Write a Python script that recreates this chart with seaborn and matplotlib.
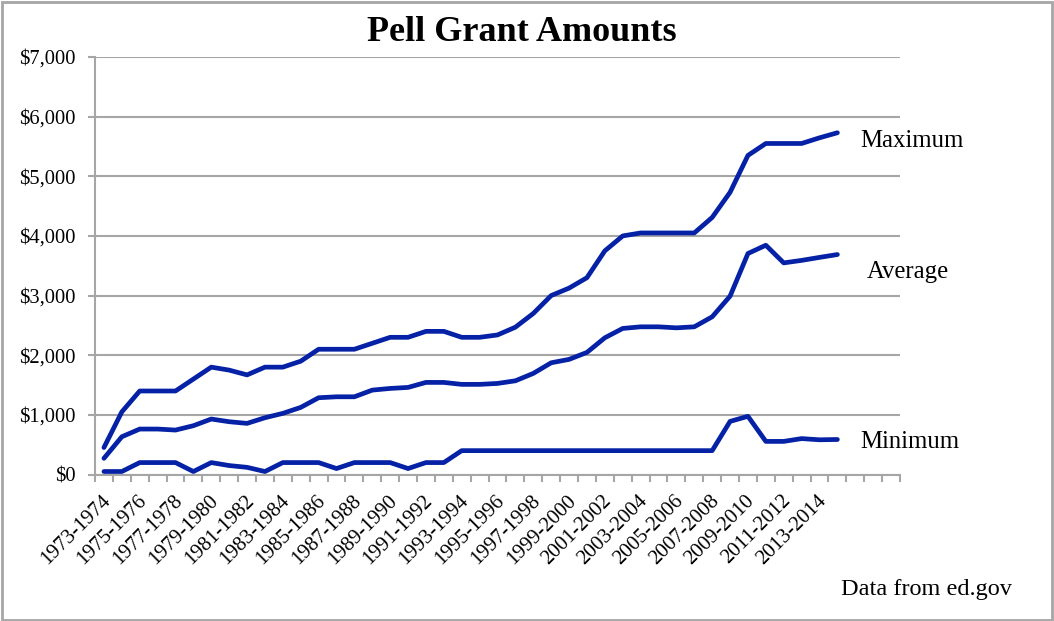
import numpy as np
import pandas as pd
import seaborn as sns
import matplotlib.pyplot as plt
from matplotlib.patches import Rectangle
from matplotlib.ticker import FuncFormatter, MultipleLocator
from matplotlib.transforms import ScaledTranslation

# datos (montos de la beca Pell por año academico)
years = ['1973-1974', '1974-1975', '1975-1976', '1976-1977', '1977-1978', '1978-1979',
         '1979-1980', '1980-1981', '1981-1982', '1982-1983', '1983-1984', '1984-1985',
         '1985-1986', '1986-1987', '1987-1988', '1988-1989', '1989-1990', '1990-1991',
         '1991-1992', '1992-1993', '1993-1994', '1994-1995', '1995-1996', '1996-1997',
         '1997-1998', '1998-1999', '1999-2000', '2000-2001', '2001-2002', '2002-2003',
         '2003-2004', '2004-2005', '2005-2006', '2006-2007', '2007-2008', '2008-2009',
         '2009-2010', '2010-2011', '2011-2012', '2012-2013', '2013-2014', '2014-2015']
maximum = [452, 1050, 1400, 1400, 1400, 1600, 1800, 1750, 1670, 1800, 1800, 1900,
           2100, 2100, 2100, 2200, 2300, 2300, 2400, 2400, 2300, 2300, 2340, 2470,
           2700, 3000, 3125, 3300, 3750, 4000, 4050, 4050, 4050, 4050, 4310, 4731,
           5350, 5550, 5550, 5550, 5645, 5730]
average = [271, 633, 762, 762, 745, 818, 930, 885, 857, 952, 1025, 1125,
           1287, 1303, 1303, 1415, 1443, 1460, 1544, 1544, 1511, 1511, 1527, 1571,
           1695, 1873, 1930, 2047, 2292, 2449, 2476, 2476, 2459, 2476, 2644, 2990,
           3705, 3844, 3548, 3590, 3640, 3688]
minimum = [50, 50, 200, 200, 200, 50, 200, 150, 120, 50, 200, 200,
           200, 100, 200, 200, 200, 100, 200, 200, 400, 400, 400, 400,
           400, 400, 400, 400, 400, 400, 400, 400, 400, 400, 400, 890,
           976, 555, 555, 602, 582, 587]
n_slots = 45  # el eje tiene espacio para 45 categorias

df = pd.DataFrame({'pos': np.arange(len(years)), 'year': years,
                   'Maximum': maximum, 'Average': average, 'Minimum': minimum})
largo = df.melt(id_vars=['pos', 'year'], var_name='serie', value_name='monto')

sns.set_style('white')
plt.rcParams['font.family'] = ['Liberation Serif', 'DejaVu Serif']
plt.rcParams['text.color'] = 'black'
plt.rcParams['xtick.labelcolor'] = 'black'
plt.rcParams['ytick.labelcolor'] = 'black'

W, H = 1054, 621
fig = plt.figure(figsize=(W / 100, H / 100), dpi=100)
ax = fig.add_axes([95 / W, 1 - 474.5 / H, 805 / W, 417.5 / H])

azul = '#0521a5'
gris = '#a6a6a6'
sns.lineplot(data=largo, x='pos', y='monto', hue='serie',
             palette=[azul, azul, azul], linewidth=3.4, legend=False,
             ax=ax, solid_capstyle='round')

ax.set_xlim(-0.5, n_slots - 0.5)
ax.set_ylim(0, 7000)
ax.yaxis.set_major_locator(MultipleLocator(1000))
ax.yaxis.set_major_formatter(FuncFormatter(lambda v, p: '${:,.0f}'.format(v)))
ax.grid(axis='y', color=gris, linewidth=1.5)
ax.set_axisbelow(True)

# marcas del eje x en los limites de cada categoria, etiquetas cada dos años
ax.set_xticks(np.arange(-0.5, n_slots, 1), minor=True)
ax.set_xticks(df['pos'][::2])
ax.set_xticklabels(df['year'][::2], rotation=45, ha='right', va='center',
                   rotation_mode='anchor', fontsize=15)
ax.tick_params(axis='x', which='major', bottom=True, length=0, pad=17)
ax.tick_params(axis='x', which='minor', bottom=True, length=5, width=1.5,
               color=gris, direction='out')
ax.tick_params(axis='y', left=True, length=5, width=1.5, color=gris, direction='out',
               labelsize=14.8, pad=9)
# correr un poco las etiquetas a la derecha
desplazar = ScaledTranslation(4 / 100, 0, fig.dpi_scale_trans)
for etiqueta in ax.get_xticklabels():
    etiqueta.set_transform(etiqueta.get_transform() + desplazar)
ax.set_xlabel('')
ax.set_ylabel('')
for lado in ['top', 'right']:
    ax.spines[lado].set_visible(False)
for lado in ['left', 'bottom']:
    ax.spines[lado].set_color(gris)
    ax.spines[lado].set_linewidth(1.5)

# textos
fig.text(522 / W, 1 - 41 / H, 'Pell Grant Amounts', ha='center', va='baseline',
         fontsize=26, fontweight='bold')
fig.text(860 / W, 1 - 147 / H, 'Maximum', va='baseline', fontsize=17.8)
fig.text(867 / W, 1 - 278 / H, 'Average', va='baseline', fontsize=17.8)
fig.text(860 / W, 1 - 448 / H, 'Minimum', va='baseline', fontsize=17.8)
fig.text(841 / W, 1 - 595 / H, 'Data from ed.gov', va='baseline', fontsize=17.5)

# borde gris del grafico
fig.patches.append(Rectangle((1.5 / W, 1.5 / H), (W - 3.5) / W, (H - 3.5) / H,
                             transform=fig.transFigure, fill=False,
                             edgecolor=gris, linewidth=2))

plt.savefig('out.png', dpi=100)
